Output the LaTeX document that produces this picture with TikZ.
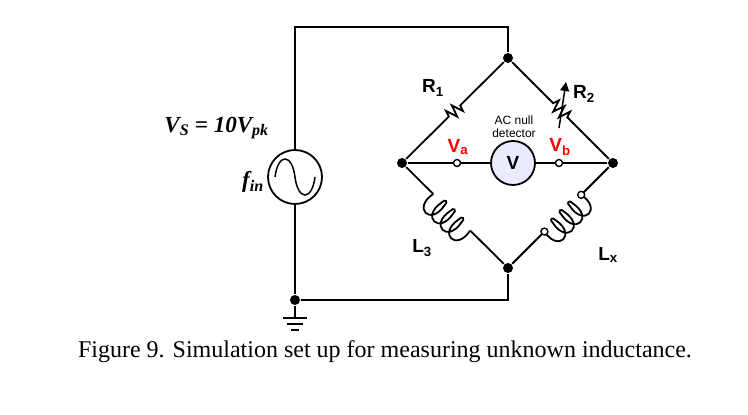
\documentclass[tikz,border=0pt]{standalone}
\usepackage{fontspec}
\setmainfont{Liberation Sans}
\newfontfamily\tnr{Liberation Serif}
\usetikzlibrary{decorations.pathmorphing,calc,arrows.meta}
\begin{document}
\begin{tikzpicture}[x=1pt,y=-1pt,line width=1.8pt,
 dot/.style={circle,fill=black,inner sep=0pt,minimum size=10pt},
 term/.style={circle,draw,fill=white,inner sep=0pt,minimum size=7pt,line width=1.4pt},
 res/.style={decorate,decoration={zigzag,segment length=8pt,amplitude=6pt,pre length=#1,post length=#1}},
 lab/.style={font=\fontsize{19}{19}\selectfont\bfseries},
 pics/ind/.style={code={
   \draw (0,0) .. controls (-5,#1) and (21,#1) .. (16,0)
     .. controls (16.5,-3*#1/14) and (11.5,-3*#1/14) .. (12,0)
     .. controls (7,#1) and (33,#1) .. (28,0)
     .. controls (28.5,-3*#1/14) and (23.5,-3*#1/14) .. (24,0)
     .. controls (19,#1) and (45,#1) .. (40,0)
     .. controls (40.5,-3*#1/14) and (35.5,-3*#1/14) .. (36,0)
     .. controls (31,#1) and (57,#1) .. (52,0);
 }}]
\useasboundingbox (0,0) rectangle (748,415);
\node[dot] (T) at (508,58) {};
\node[dot] (L) at (402,163) {};
\node[dot] (R) at (613,163) {};
\node[dot] (B) at (508,268) {};
\node[dot] (G) at (295,300) {};
\coordinate (TL) at (295,27);
\coordinate (TR) at (508,27);
\coordinate (BR) at (508,300);
\node[circle,draw,minimum size=54pt,inner sep=0pt] (S) at (295,177) {};
\draw[line width=1.5pt] ($(S.center)+(-20,0)$) .. controls +(3,-24) and +(-3,-24) .. (S.center) .. controls +(3,24) and +(-3,24) .. ($(S.center)+(20,0)$);
\draw (S.north) -- (TL) -- (TR) -- (T);
\draw (S.south) -- (G) -- (BR) -- (B);
\draw (G) -- (295,318);
\draw (283,318) -- (307,318) (287,324) -- (303,324) (291,330) -- (299,330);
\draw[res=60pt] (L) -- (T);
\draw[res=58pt] (T) -- (R);
\draw[-{Triangle[length=9pt,width=9pt]},line width=1.5pt] (559,128) -- (566,82);
% L3
\coordinate (a1) at ($(L)!44pt!(B)$);
\coordinate (a2) at ($(L)!96pt!(B)$);
\draw (L) -- (a1) (a2) -- (B);
\pic[rotate=-45] at (a1) {ind=25};
% Lx
\coordinate (b1) at ($(R)!45pt!(B)$);
\coordinate (b2) at ($(R)!97pt!(B)$);
\draw (R) -- (b1) (b2) -- (B);
\pic[rotate=-135] at (b1) {ind=-25};
\node[term] at (b1) {};
\node[term] at (b2) {};
\node[term] (Va) at (457,163) {};
\node[term] (Vb) at (559,163) {};
\node[circle,draw,fill=blue!8,minimum size=44pt,inner sep=0pt,lab] (V) at (513,163) {V};
\draw (L) -- (Va) -- (V) -- (Vb) -- (R);
\node[lab] at (433,88) {R\textsubscript{1}};
\node[lab] at (584,94) {R\textsubscript{2}};
\node[lab] at (422,248) {L\textsubscript{3}};
\node[lab] at (608,255) {L\textsubscript{x}};
\node[font=\fontsize{12}{13}\selectfont,align=center] at (514,127) {AC null\\detector};
\node[lab,text=red] at (458,147) {V\textsubscript{a}};
\node[lab,text=red] at (560,147) {V\textsubscript{b}};
\node[font=\tnr\bfseries\itshape\fontsize{23}{23}\selectfont,anchor=east] at (273,128) {V\textsubscript{S} = 10V\textsubscript{pk}};
\node[font=\tnr\bfseries\itshape\fontsize{23}{23}\selectfont,anchor=east] at (268,182) {f\textsubscript{in}};
\node[font=\tnr\fontsize{24}{24}\selectfont] at (385,352) {Figure 9. Simulation set up for measuring unknown inductance.};
\end{tikzpicture}
\end{document}
